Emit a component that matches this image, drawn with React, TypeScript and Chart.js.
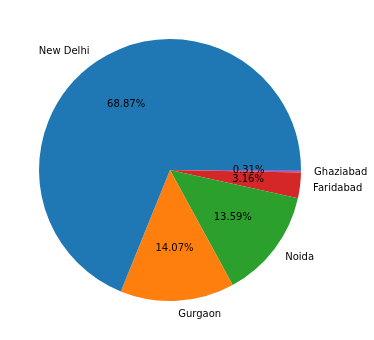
import React, { useEffect, useRef } from "react";
import { Chart, registerables } from "chart.js";

Chart.register(...registerables);

const categories = ["New Delhi", "Gurgaon", "Noida", "Faridabad", "Ghaziabad"];
const shares = [68.87, 14.07, 13.59, 3.16, 0.31];
const colors = ["#1f77b4", "#ff7f0e", "#2ca02c", "#d62728", "#9467bd"];

export default function App() {
  const ref = useRef<HTMLCanvasElement | null>(null);
  useEffect(() => {
    document.body.style.margin = "0";
    const ctx = ref.current!.getContext("2d")!;
    const labels = [...categories].reverse();
    const data = [...shares].reverse();
    const bg = [...colors].reverse();
    const total = shares.reduce((a, b) => a + b, 0);

    const labelPlugin = {
      id: "mplLabels",
      afterDraw(chart: any) {
        const meta = chart.getDatasetMeta(0);
        const c = chart.ctx;
        c.save();
        c.font = "10px 'DejaVu Sans'";
        c.fillStyle = "#000";
        c.textBaseline = "middle";
        meta.data.forEach((arc: any, i: number) => {
          const { x, y, startAngle, endAngle, outerRadius } = arc.getProps(
            ["x", "y", "startAngle", "endAngle", "outerRadius"],
            true
          );
          const mid = (startAngle + endAngle) / 2;
          const lx = x + Math.cos(mid) * outerRadius * 1.1;
          const ly = y + Math.sin(mid) * outerRadius * 1.1 + 1;
          c.textAlign = Math.cos(mid) > 0 ? "left" : "right";
          c.fillText(labels[i], lx, ly);
          const px = x + Math.cos(mid) * outerRadius * 0.6;
          const py = y + Math.sin(mid) * outerRadius * 0.6;
          c.textAlign = "center";
          c.fillText(((data[i] / total) * 100).toFixed(2) + "%", px, py);
        });
        c.restore();
      },
    };

    const chart = new Chart(ctx, {
      type: "pie",
      data: {
        labels,
        datasets: [
          {
            data,
            backgroundColor: bg,
            borderWidth: 0,
          },
        ],
      },
      options: {
        responsive: false,
        animation: false,
        rotation: 90,
        layout: { padding: { left: 39, right: 73, top: 39, bottom: 39 } },
        plugins: {
          legend: { display: false },
          tooltip: { enabled: false },
        },
      },
      plugins: [labelPlugin],
    });
    return () => chart.destroy();
  }, []);
  return (
    <div style={{ width: 374, height: 340, background: "#fff" }}>
      <canvas ref={ref} width={374} height={340} style={{ display: "block" }} />
    </div>
  );
}
